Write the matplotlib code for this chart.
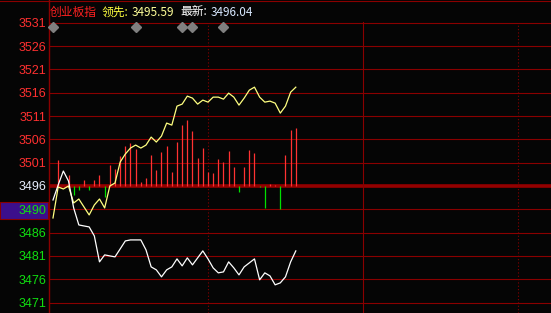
import numpy as np
import matplotlib
matplotlib.use("Agg")
import matplotlib.pyplot as plt
from matplotlib.patches import Rectangle
import matplotlib.transforms as mtransforms

# minutes since open, one sample every 2 minutes
minutes = list(range(0, 96, 2))

# white line: index price
index_line = [3492.55, 3495.81, 3498.85, 3496.68, 3490.81, 3487.11, 3486.89, 3486.68,
              3484.72, 3479.07, 3480.59, 3480.37, 3480.16, 3481.89, 3483.63, 3483.85,
              3483.85, 3483.85, 3481.68, 3477.98, 3477.33, 3475.81, 3477.33, 3477.98,
              3479.72, 3478.20, 3479.94, 3478.42, 3479.94, 3481.46, 3479.72, 3477.76,
              3476.68, 3476.89, 3479.07, 3477.76, 3476.24, 3477.98, 3478.85, 3479.72,
              3475.16, 3476.68, 3476.02, 3474.07, 3474.50, 3475.81, 3479.07, 3481.46]

# yellow line: leading indicator
lead_line = [3488.63, 3495.37, 3494.94, 3495.59, 3491.89, 3492.76, 3491.02, 3489.29,
             3491.46, 3492.76, 3490.81, 3495.59, 3496.24, 3500.81, 3502.55, 3503.85,
             3504.50, 3503.85, 3504.50, 3506.24, 3505.16, 3506.46, 3509.29, 3508.85,
             3512.98, 3513.42, 3515.16, 3514.72, 3513.42, 3514.29, 3513.85, 3514.94,
             3514.94, 3514.50, 3515.81, 3514.94, 3513.20, 3514.72, 3516.46, 3517.11,
             3514.94, 3513.85, 3514.07, 3513.63, 3511.46, 3512.98, 3516.02, 3517.11]

# red / green bars around the base line
bar_minutes = list(range(2, 96, 2))
bar_values = [5.65, 0, 2.39, -1.96, -0.87, 1.30, -0.87, 1.30, 2.39, -2.33,
              4.57, 3.70, 6.52, 8.70, 9.41, 7.98, 0.93, 1.74, 6.74, 3.48,
              7.46, 8.70, 3.11, 9.63, 13.26, 14.35, 11.96, 6.15, 8.20, 3.11,
              2.83, 5.80, 5.28, 7.61, 4.13, -1.24, 4.07, 7.83, 7.24, -0.28,
              -4.72, 0.43, 0.22, -5.07, 6.74, 12.17, 12.54]

event_minutes = [0, 32, 50, 54, 66]

base = 3495.59
step = 5.08
levels = [base + step * k for k in range(7, -6, -1)]
level_labels = ["3531", "3526", "3521", "3516", "3511", "3506", "3501",
                "3496", "3490", "3486", "3481", "3476", "3471"]

W, H = 551, 313
fig = plt.figure(figsize=(W / 100, H / 100), dpi=100)
fig.patch.set_facecolor("#050505")
ax = fig.add_axes([49 / W, 0, (W - 49) / W, 1])
ax.set_facecolor("#050505")

px_per_pt = 4.593
ax.set_ylim(base - 127 / px_per_pt, base + 186 / px_per_pt)
ax.set_xlim(-1.55, 192.8)

grid_red = "#8a0000"
top_y = base + (186 - 22) / px_per_pt
for lv in levels:
    ax.axhline(lv, color=grid_red, lw=0.8, zorder=1)
ax.axhline(base, color="#940000", lw=2.6, zorder=1)
ax.axvline(120, ymax=(313 - 22) / 313, color=grid_red, lw=0.8, zorder=1)
for m in (60, 180):
    ax.axvline(m, ymax=(313 - 25) / 313, color=grid_red, lw=0.8,
               linestyle=(0, (1, 2)), zorder=1)

for s in ("top", "right", "bottom"):
    ax.spines[s].set_visible(False)
ax.spines["left"].set_color(grid_red)
ax.spines["left"].set_linewidth(1.0)
ax.set_xticks([])

# bars
colors = ["#ff3232" if v > 0 else "#00e000" for v in bar_values]
ax.vlines(bar_minutes, base, [base + v for v in bar_values], colors=colors,
          lw=0.9, zorder=2)

ax.plot(minutes, lead_line, color="#ffff80", lw=0.9, zorder=3)
ax.plot(minutes, index_line, color="#ffffff", lw=0.9, zorder=3)

# event markers
trans = mtransforms.blended_transform_factory(ax.transData, ax.transAxes)
ax.plot(event_minutes, [(313 - 27) / 313] * len(event_minutes), "D",
        color="#808080", markersize=5, transform=trans, clip_on=False, zorder=4)

# y labels
ax.set_yticks(levels)
ax.set_yticklabels(level_labels, fontfamily="Liberation Sans", fontsize=9)
ax.tick_params(axis="y", length=0, pad=2)
for lbl, lv in zip(ax.get_yticklabels(), levels):
    if lv > base + 1:
        lbl.set_color("#ff3030")
    elif lv < base - 1:
        lbl.set_color("#10e010")
    else:
        lbl.set_color("#e8eeff")

# purple highlight behind current label
fig.add_artist(Rectangle((0, (313 - 219) / H), 48 / W, 17 / H,
                         transform=fig.transFigure, facecolor="#3c0f8c",
                         edgecolor=grid_red, lw=0.8, zorder=-1))

# top border line
fig.add_artist(plt.Line2D([0, 1], [1 - 1 / H, 1 - 1 / H], color=grid_red,
                          lw=0.8, transform=fig.transFigure))

cjk = ["Noto Sans CJK SC", "DejaVu Sans"]
ty = 1 - 12 / H
parts = [(50, "创业板指", "#ff2020"), (102, "领先:", "#ffff40"),
         (132, "3495.59", "#ffff99"), (180, "最新:", "#ffffff"),
         (211, "3496.04", "#d8e8ff")]
for x, s, c in parts:
    fig.text(x / W, ty, s, color=c, fontsize=8.5, family=cjk, va="center",
             ha="left")

fig.savefig("out.png", dpi=100, facecolor=fig.get_facecolor())
